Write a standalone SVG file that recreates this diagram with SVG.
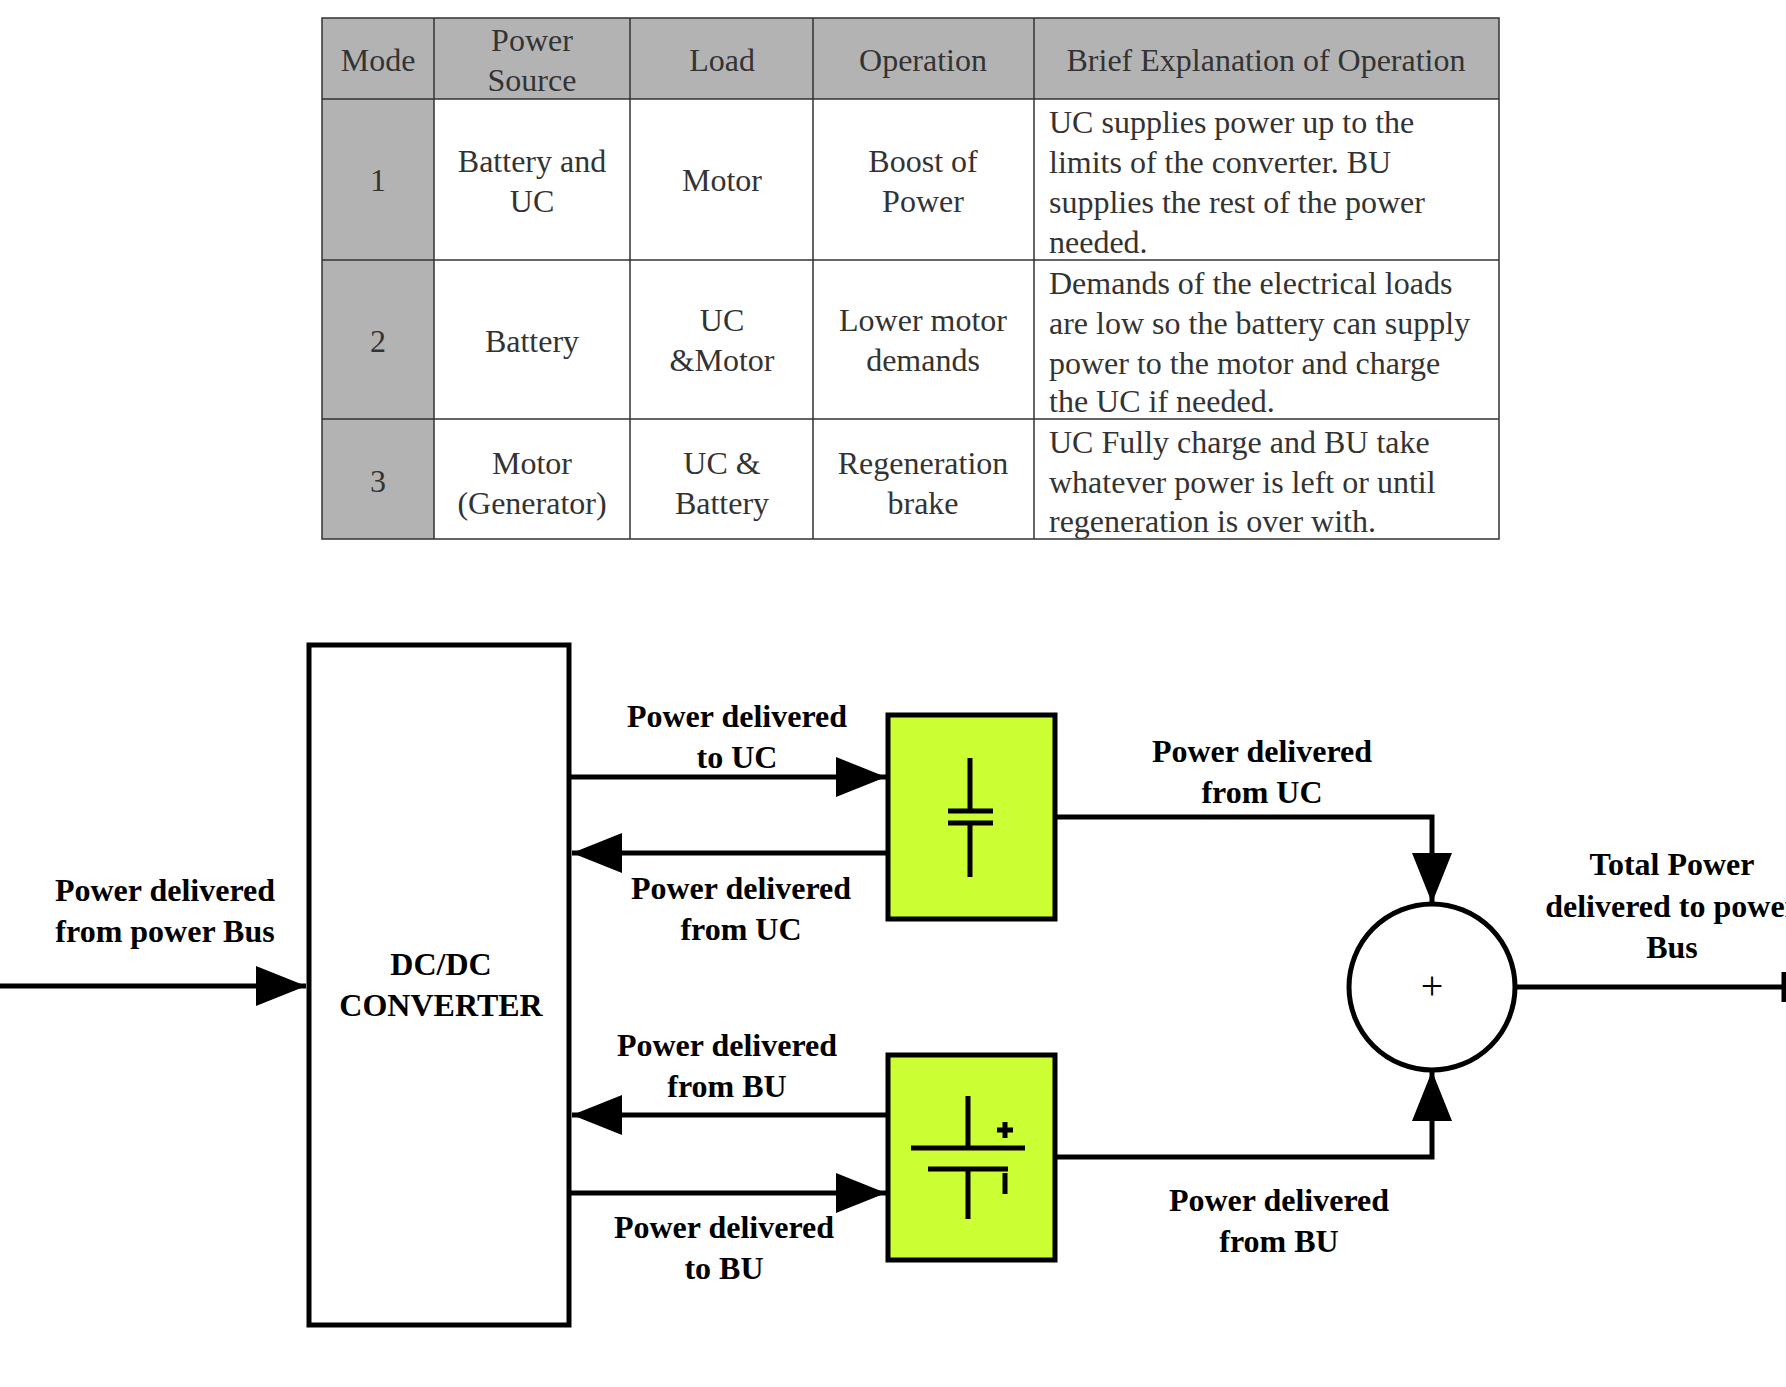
<svg xmlns="http://www.w3.org/2000/svg" width="1786" height="1387" viewBox="0 0 1786 1387">
<defs>
<style>
text{font-family:"Liberation Serif","Times New Roman","DejaVu Serif",serif}
.t{font-size:32px;fill:#333;text-anchor:middle}
.tl{font-size:32px;fill:#333}
.b{font-size:32px;font-weight:bold;fill:#000;text-anchor:middle}
.ln{stroke:#000;stroke-width:5;fill:none}
.g{fill:#b3b3b3}
.grid{stroke:#333;stroke-width:1.5;fill:none}
</style>
<marker id="ah" markerWidth="10" markerHeight="8" refX="10" refY="4" orient="auto" markerUnits="strokeWidth"><path d="M0,0 L10,4 L0,8 Z" fill="#000"/></marker>
</defs>
<rect width="1786" height="1387" fill="#fff"/>
<g id="table">
<rect class="g" x="322" y="18" width="1177" height="81"/>
<rect class="g" x="322" y="99" width="112" height="440"/>
<rect class="grid" x="322" y="18" width="1177" height="521" stroke-width="2.5"/>
<path class="grid" d="M434,18V539M630,18V539M813,18V539M1034,18V539M322,99H1499M322,260H1499M322,419H1499"/>
<text class="t" x="378" y="71">Mode</text>
<text class="t" x="532" y="51">Power</text><text class="t" x="532" y="91">Source</text>
<text class="t" x="722" y="71">Load</text>
<text class="t" x="923" y="71">Operation</text>
<text class="t" x="1266" y="71">Brief Explanation of Operation</text>
<text class="t" x="378" y="191">1</text>
<text class="t" x="532" y="172">Battery and</text><text class="t" x="532" y="212">UC</text>
<text class="t" x="722" y="191">Motor</text>
<text class="t" x="923" y="172">Boost of</text><text class="t" x="923" y="212">Power</text>
<text class="tl" x="1049" y="133">UC supplies power up to the</text>
<text class="tl" x="1049" y="173">limits of the converter. BU</text>
<text class="tl" x="1049" y="213">supplies the rest of the power</text>
<text class="tl" x="1049" y="253">needed.</text>
<text class="t" x="378" y="352">2</text>
<text class="t" x="532" y="352">Battery</text>
<text class="t" x="722" y="331">UC</text><text class="t" x="722" y="371">&amp;Motor</text>
<text class="t" x="923" y="331">Lower motor</text><text class="t" x="923" y="371">demands</text>
<text class="tl" x="1049" y="294">Demands of the electrical loads</text>
<text class="tl" x="1049" y="334">are low so the battery can supply</text>
<text class="tl" x="1049" y="374">power to the motor and charge</text>
<text class="tl" x="1049" y="412">the UC if needed.</text>
<text class="t" x="378" y="492">3</text>
<text class="t" x="532" y="474">Motor</text><text class="t" x="532" y="514">(Generator)</text>
<text class="t" x="722" y="474">UC &amp;</text><text class="t" x="722" y="514">Battery</text>
<text class="t" x="923" y="474">Regeneration</text><text class="t" x="923" y="514">brake</text>
<text class="tl" x="1049" y="453">UC Fully charge and BU take</text>
<text class="tl" x="1049" y="493">whatever power is left or until</text>
<text class="tl" x="1049" y="532">regeneration is over with.</text>
</g>
<g id="converter">
<rect class="ln" x="309" y="645" width="260" height="680"/>
<text class="b" x="441" y="975">DC/DC</text><text class="b" x="441" y="1016">CONVERTER</text>
</g>
<g id="uc">
<rect x="888" y="715" width="167" height="204" fill="#ccff33" stroke="#000" stroke-width="5"/>
<path class="ln" d="M970,758V811M948,811H993M948,823H993M970,823V877"/>
</g>
<g id="bu">
<rect x="888" y="1055" width="167" height="205" fill="#ccff33" stroke="#000" stroke-width="5"/>
<path class="ln" d="M968,1096V1148M911,1148H1025M928,1169H1008M968,1169V1219M1005,1122V1138M997,1130H1013M1005,1173V1194"/>
</g>
<g id="sum">
<circle cx="1432" cy="987" r="83" fill="#fff" stroke="#000" stroke-width="5"/>
<text x="1432" y="999" font-size="40" text-anchor="middle">+</text>
</g>
<g id="connectors">
<path class="ln" d="M0,986H306" marker-end="url(#ah)"/>
<path class="ln" d="M569,777H886" marker-end="url(#ah)"/>
<path class="ln" d="M888,853H572" marker-end="url(#ah)"/>
<path class="ln" d="M888,1115H572" marker-end="url(#ah)"/>
<path class="ln" d="M569,1193H886" marker-end="url(#ah)"/>
<path class="ln" d="M1055,817H1432V903" marker-end="url(#ah)"/>
<path class="ln" d="M1055,1157H1432V1071" marker-end="url(#ah)"/>
<path class="ln" d="M1515,987H1786"/>
<path class="ln" d="M1784,972V1002" stroke-width="6"/>
</g>
<g id="labels">
<text class="b" x="737" y="727">Power delivered</text><text class="b" x="737" y="768">to UC</text>
<text class="b" x="1262" y="762">Power delivered</text><text class="b" x="1262" y="803">from UC</text>
<text class="b" x="741" y="899">Power delivered</text><text class="b" x="741" y="940">from UC</text>
<text class="b" x="165" y="901">Power delivered</text><text class="b" x="165" y="942">from  power Bus</text>
<text class="b" x="727" y="1056">Power delivered</text><text class="b" x="727" y="1097">from BU</text>
<text class="b" x="724" y="1238">Power delivered</text><text class="b" x="724" y="1279">to BU</text>
<text class="b" x="1279" y="1211">Power delivered</text><text class="b" x="1279" y="1252">from BU</text>
<text class="b" x="1672" y="875">Total Power</text><text class="b" x="1672" y="917">delivered to power</text><text class="b" x="1672" y="958">Bus</text>
</g>
</svg>
